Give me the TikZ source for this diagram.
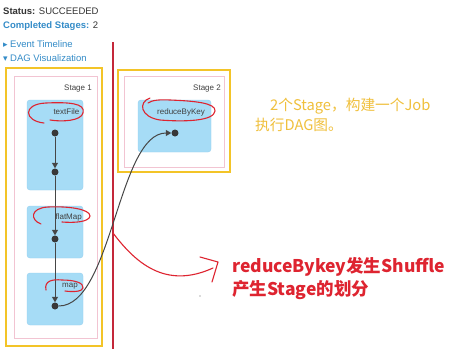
\documentclass[tikz,border=0pt]{standalone}
\usepackage{fontspec}
\setmainfont{Liberation Sans}
\newfontfamily\cjk{Noto Sans CJK SC}
\newfontfamily\symf{DejaVu Sans}
\usetikzlibrary{arrows.meta}
\definecolor{ygold}{RGB}{243,196,40}
\definecolor{ytext}{RGB}{240,192,60}
\definecolor{pinkb}{RGB}{242,196,210}
\definecolor{nodeblue}{RGB}{166,220,246}
\definecolor{nodeedge}{RGB}{150,208,240}
\definecolor{uiblue}{RGB}{52,140,200}
\definecolor{redline}{RGB}{196,40,58}
\definecolor{redann}{RGB}{222,36,48}
\definecolor{edgegray}{RGB}{70,70,70}
\tikzset{
  ybox/.style={draw=ygold, line width=2.6pt, inner sep=0, minimum width=#1},
  pbox/.style={draw=pinkb, line width=0.8pt, inner sep=0, minimum width=#1},
  rdd/.style={fill=nodeblue, draw=nodeedge, line width=0.4pt, rounded corners=3pt, inner sep=0, minimum width=#1},
  lbl/.style={anchor=base east, inner sep=0, text=black!75, font=\fontsize{8}{9}\selectfont},
  dotn/.style={circle, fill=black!78, inner sep=0, minimum size=7pt},
  edge/.style={draw=edgegray, line width=1pt, -{Triangle[width=6pt,length=5.5pt]}},
  ann/.style={draw=redann, line width=1.1pt, line cap=round, line join=round},
  ui/.style={anchor=base west, inner sep=0, font=\fontsize{9.5}{11}\selectfont}
}
\begin{document}
\begin{tikzpicture}[x=1pt,y=-1pt]
\useasboundingbox (0,0) rectangle (474,349);
\fill[white] (0,0) rectangle (474,349);

% header texts
\node[ui, text=black!80] (status) at (3,14) {\textbf{Status:} SUCCEEDED};
\node[ui, text=black!80] (comp) at (3,28) {\textcolor{uiblue}{\textbf{Completed Stages:}} 2};
\node[ui, text=uiblue] (evt) at (3,47.5) {{\symf\fontsize{9}{10}\selectfont ▸}\hspace{2.5pt}Event Timeline};
\node[ui, text=uiblue] (dag) at (3,61.5) {{\symf\fontsize{9}{10}\selectfont ▾}\hspace{2.5pt}DAG Visualization};

% red separator line
\coordinate (rtop) at (113,42);
\coordinate (rbot) at (113,349);
\draw[redline, line width=1.2pt] (rtop) -- (rbot);

% stage 1
\node[ybox=96pt, minimum height=278pt] (y1) at (54,207) {};
\node[pbox=83pt, minimum height=262pt] (p1) at (55.5,207) {};
\node[lbl] (st1) at (92,90) {Stage 1};
\node[rdd=56pt, minimum height=90pt] (b1) at (55,145) {};
\node[rdd=56pt, minimum height=52pt] (b2) at (55,232) {};
\node[rdd=56pt, minimum height=52pt] (b3) at (55,299) {};
\node[lbl] (l1) at (79.5,114) {textFile};
\node[lbl] (l2) at (82,219) {flatMap};
\node[lbl] (l3) at (78,287) {map};

% stage 2
\node[ybox=112pt, minimum height=102pt] (y2) at (174,121) {};
\node[pbox=100pt, minimum height=91pt] (p2) at (174,121.5) {};
\node[lbl] (st2) at (221,90) {Stage 2};
\node[rdd=73pt, minimum height=52pt] (b4) at (174.5,126) {};
\node[lbl] (l4) at (205,114) {reduceByKey};

% dots
\node[dotn] (d1) at (55,133) {};
\node[dotn] (d2) at (55,172) {};
\node[dotn] (d3) at (55,239) {};
\node[dotn] (d4) at (55,306) {};
\node[dotn] (d5) at (175,133) {};

% edges
\draw[edge] (d1) -- (d2);
\draw[edge] (d2) -- (d3);
\draw[edge] (d3) -- (d4);
\draw[edge] (d4) .. controls (112,306) and (118,133) .. (d5);

% red hand-drawn loops
\draw[ann] (44,123) .. controls (24,121) and (22,104) .. (46,103)
  .. controls (68,102) and (86,103) .. (83,113) .. controls (81,121) and (62,122) .. (50,120);
\draw[ann] (41,224) .. controls (30,220) and (30,208) .. (48,207)
  .. controls (68,206) and (90,209) .. (90,216) .. controls (89,222) and (75,223) .. (62,222);
\draw[ann] (46,290) .. controls (44,281) and (52,279) .. (62,280)
  .. controls (75,280) and (84,283) .. (83,288) .. controls (82,292) and (72,292) .. (65,291);
\draw[ann] (150,98) .. controls (138,102) and (140,117) .. (160,120)
  .. controls (185,122) and (214,121) .. (215,111) .. controls (216,103) and (195,101) .. (170,100)
  .. controls (160,99.5) and (152,100) .. (148,103);

% red annotation arrow
\coordinate (ra) at (113,233);
\coordinate (rb) at (213,268);
\coordinate (rv1) at (200,257);
\coordinate (rv2) at (218,262);
\coordinate (rv3) at (212,282);
\draw[ann] (ra) .. controls (135,262) and (165,290) .. (rb);
\draw[ann] (rv1) -- (rv2) -- (rv3);
\fill[black!60] (200,296) circle (0.6pt);

% annotations text
\node[anchor=base west, inner sep=0, text=redann, font=\cjk\bfseries\fontsize{17.5}{20}\selectfont] (t1) at (232,272) {reduceBykey发生Shuffle};
\node[anchor=base west, inner sep=0, text=redann, font=\cjk\bfseries\fontsize{17.5}{20}\selectfont] (t2) at (232,295) {产生Stage的划分};
\node[anchor=base west, inner sep=0, text=ytext, font=\cjk\fontsize{14.7}{17}\selectfont] (t3) at (270,110) {2个Stage，构建一个Job};
\node[anchor=base west, inner sep=0, text=ytext, font=\cjk\fontsize{14.7}{17}\selectfont] (t4) at (255,130) {执行DAG图。};
\end{tikzpicture}
\end{document}
